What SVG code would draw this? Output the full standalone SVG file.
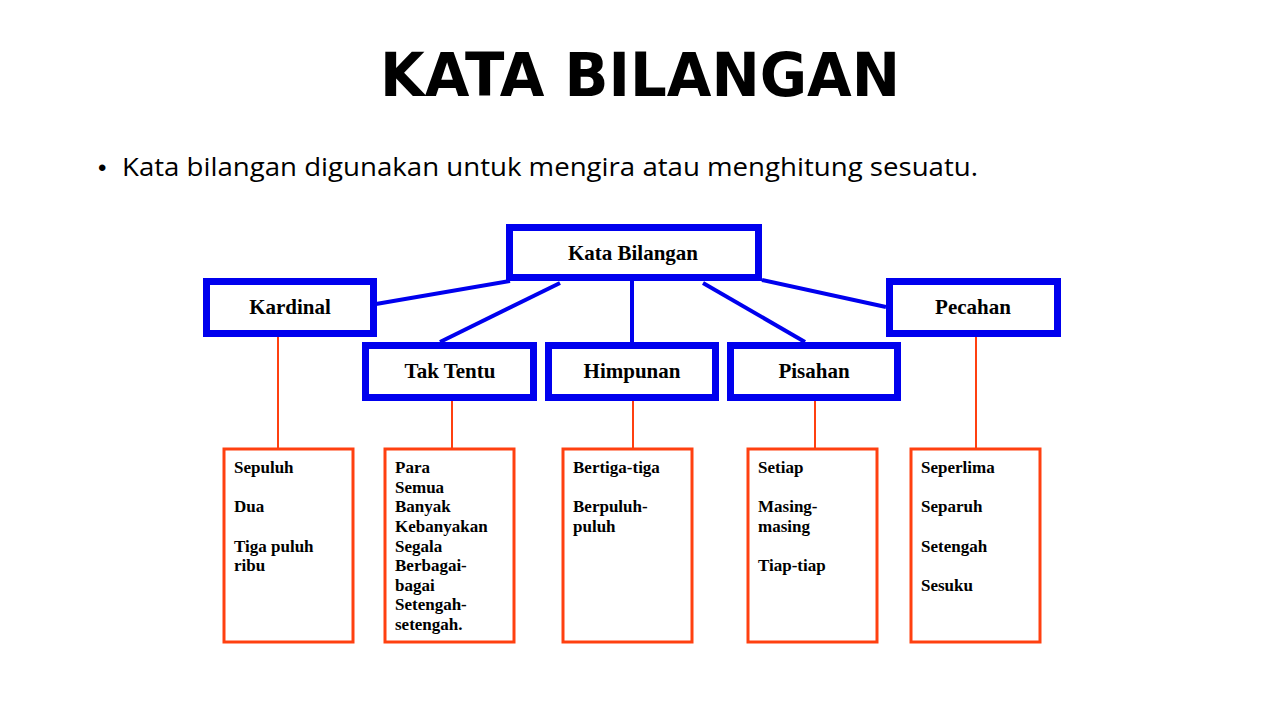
<svg xmlns="http://www.w3.org/2000/svg" width="1280" height="720" viewBox="0 0 1280 720">
<style>
.b{fill:#fff;stroke:#0000ee;stroke-width:7}
.o{fill:#fff;stroke:#ff4010;stroke-width:3}
.bt{font-family:"Liberation Serif",serif;font-weight:bold;font-size:21px;text-anchor:middle}
.ot{font-family:"Liberation Serif",serif;font-weight:bold;font-size:17px}
.bl{stroke:#0000ee;stroke-width:4}
.rl{stroke:#ff4010;stroke-width:2}
</style>
<rect width="1280" height="720" fill="#fff"/>
<text x="380" y="96" font-family="DejaVu Sans,sans-serif" font-weight="bold" font-size="60" textLength="520" lengthAdjust="spacingAndGlyphs">KATA BILANGAN</text>
<text x="98" y="176" font-family="Liberation Sans,sans-serif" font-size="24">•</text>
<text x="122" y="176" font-family="Open Sans,Liberation Sans,sans-serif" font-size="25" textLength="856" lengthAdjust="spacingAndGlyphs">Kata bilangan digunakan untuk mengira atau menghitung sesuatu.</text>
<g id="connectors">
<line class="bl" x1="376" y1="304" x2="510" y2="281"/>
<line class="bl" x1="440" y1="342" x2="560" y2="283"/>
<line class="bl" x1="632" y1="281" x2="632" y2="342"/>
<line class="bl" x1="805" y1="342" x2="703" y2="283"/>
<line class="bl" x1="886" y1="307" x2="762" y2="280"/>
<line class="rl" x1="278" y1="337" x2="278" y2="448"/>
<line class="rl" x1="452" y1="401" x2="452" y2="448"/>
<line class="rl" x1="633" y1="401" x2="633" y2="448"/>
<line class="rl" x1="815" y1="401" x2="815" y2="448"/>
<line class="rl" x1="976" y1="337" x2="976" y2="448"/>
</g>
<g id="kata-bilangan"><rect class="b" x="509.5" y="227.5" width="249" height="50"/><text class="bt" x="633" y="260">Kata Bilangan</text></g>
<g id="kardinal"><rect class="b" x="206.5" y="281.5" width="167" height="52"/><text class="bt" x="290" y="314">Kardinal</text></g>
<g id="pecahan"><rect class="b" x="889.5" y="281.5" width="168" height="52"/><text class="bt" x="973" y="314">Pecahan</text></g>
<g id="tak-tentu"><rect class="b" x="365.5" y="345.5" width="168" height="52"/><text class="bt" x="450" y="378">Tak Tentu</text></g>
<g id="himpunan"><rect class="b" x="548.5" y="345.5" width="167" height="52"/><text class="bt" x="632" y="378">Himpunan</text></g>
<g id="pisahan"><rect class="b" x="730.5" y="345.5" width="167" height="52"/><text class="bt" x="814" y="378">Pisahan</text></g>
<g id="list-kardinal"><rect class="o" x="224" y="449" width="129" height="193"/>
<text class="ot" x="234" y="473">Sepuluh</text><text class="ot" x="234" y="512">Dua</text><text class="ot" x="234" y="552">Tiga puluh</text><text class="ot" x="234" y="571">ribu</text></g>
<g id="list-tak-tentu"><rect class="o" x="385" y="449" width="129" height="193"/>
<text class="ot" x="395" y="473">Para</text><text class="ot" x="395" y="493">Semua</text><text class="ot" x="395" y="512">Banyak</text><text class="ot" x="395" y="532">Kebanyakan</text><text class="ot" x="395" y="552">Segala</text><text class="ot" x="395" y="571">Berbagai-</text><text class="ot" x="395" y="591">bagai</text><text class="ot" x="395" y="610">Setengah-</text><text class="ot" x="395" y="630">setengah.</text></g>
<g id="list-himpunan"><rect class="o" x="563" y="449" width="129" height="193"/>
<text class="ot" x="573" y="473">Bertiga-tiga</text><text class="ot" x="573" y="512">Berpuluh-</text><text class="ot" x="573" y="532">puluh</text></g>
<g id="list-pisahan"><rect class="o" x="748" y="449" width="129" height="193"/>
<text class="ot" x="758" y="473">Setiap</text><text class="ot" x="758" y="512">Masing-</text><text class="ot" x="758" y="532">masing</text><text class="ot" x="758" y="571">Tiap-tiap</text></g>
<g id="list-pecahan"><rect class="o" x="911" y="449" width="129" height="193"/>
<text class="ot" x="921" y="473">Seperlima</text><text class="ot" x="921" y="512">Separuh</text><text class="ot" x="921" y="552">Setengah</text><text class="ot" x="921" y="591">Sesuku</text></g>
</svg>
